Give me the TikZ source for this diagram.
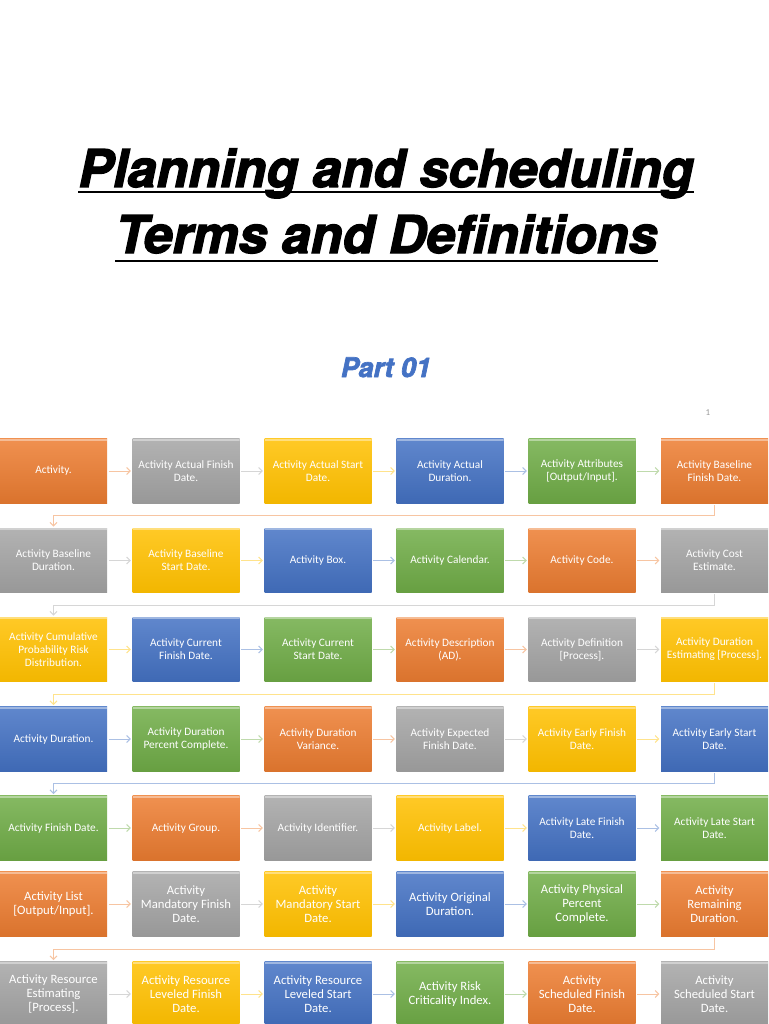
\documentclass[tikz,border=0pt]{standalone}
\usepackage{fontspec}
\usetikzlibrary{arrows.meta}
\newfontfamily\boxfont{Carlito}
\newfontfamily\titlefont[BoldItalicFeatures={FakeBold=2.5}]{TeX Gyre Heros}
\definecolor{morange}{HTML}{ED7D31}
\definecolor{mgray}{HTML}{A5A5A5}
\definecolor{mgold}{HTML}{FFC000}
\definecolor{mblue}{HTML}{4472C4}
\definecolor{mgreen}{HTML}{70AD47}

\begin{document}
\begin{tikzpicture}[x=1pt, y=-1pt,
    box/.style={minimum width=107pt, minimum height=64.5pt, inner sep=2pt,
      align=center, text=white, font=\boxfont\fontsize{11.3}{13}\selectfont,
      path picture={\fill [white, opacity=0.4] (path picture bounding box.north west)
        rectangle ([yshift=-2pt]path picture bounding box.north east);}},
    big/.style={font=\boxfont\fontsize{12.7}{14}\selectfont},
    orangebox/.style={box, top color=morange!85!white, bottom color=morange!92!black},
    graybox/.style={box, top color=mgray!85!white, bottom color=mgray!92!black},
    goldbox/.style={box, top color=mgold!85!white, bottom color=mgold!95!black},
    bluebox/.style={box, top color=mblue!85!white, bottom color=mblue!92!black},
    greenbox/.style={box, top color=mgreen!85!white, bottom color=mgreen!92!black},
    link/.style={line width=1pt, -{Straight Barb[length=3.5pt, width=7pt]},
      shorten <=1.5pt, shorten >=1.5pt},
    orangelink/.style={link, morange!45!white},
    graylink/.style={link, mgray!45!white},
    goldlink/.style={link, mgold!45!white},
    bluelink/.style={link, mblue!45!white},
    greenlink/.style={link, mgreen!45!white},
    heading/.style={inner sep=0pt, anchor=base,
      font=\titlefont\bfseries\itshape\fontsize{52}{60}\selectfont}]
  \useasboundingbox (0, 0) rectangle (768, 1024);

  % title
  \node [heading] (title1) at (386, 187) {Planning and scheduling};
  \node [heading] (title2) at (386.5, 253) {Terms and Definitions};
  \draw [line width=2.5pt] ([yshift=-5pt]title1.base west) -- ([yshift=-5pt]title1.base east);
  \draw [line width=2.5pt] ([yshift=-8pt]title2.base west) -- ([yshift=-8pt]title2.base east);
  \node [heading, text=mblue, font=\titlefont\bfseries\itshape\fontsize{27}{30}\selectfont]
    (part) at (386, 377) {Part 01};
  \node [text=gray!80, font=\boxfont\fontsize{9}{10}\selectfont] (page) at (708, 413) {1};

  % row 1
  \node [orangebox] (1) at (53.5, 471) {Activity.};
  \node [graybox] (2) at (186, 471) {Activity Actual Finish\\Date.};
  \node [goldbox] (3) at (318, 471) {Activity Actual Start\\Date.};
  \node [bluebox] (4) at (450, 471) {Activity Actual\\Duration.};
  \node [greenbox] (5) at (582, 471) {Activity Attributes\\{[}Output/Input].};
  \node [orangebox] (6) at (714.5, 471) {Activity Baseline\\Finish Date.};

  % row 2
  \node [graybox] (7) at (53.5, 560.5) {Activity Baseline\\Duration.};
  \node [goldbox] (8) at (186, 560.5) {Activity Baseline\\Start Date.};
  \node [bluebox] (9) at (318, 560.5) {Activity Box.};
  \node [greenbox] (10) at (450, 560.5) {Activity Calendar.};
  \node [orangebox] (11) at (582, 560.5) {Activity Code.};
  \node [graybox] (12) at (714.5, 560.5) {Activity Cost\\Estimate.};

  % row 3
  \node [goldbox] (13) at (53.5, 649.5) {Activity Cumulative\\Probability Risk\\Distribution.};
  \node [bluebox] (14) at (186, 649.5) {Activity Current\\Finish Date.};
  \node [greenbox] (15) at (318, 649.5) {Activity Current\\Start Date.};
  \node [orangebox] (16) at (450, 649.5) {Activity Description\\(AD).};
  \node [graybox] (17) at (582, 649.5) {Activity Definition\\{[}Process].};
  \node [goldbox] (18) at (714.5, 649.5) {Activity Duration\\Estimating [Process].};

  % row 4
  \node [bluebox] (19) at (53.5, 739) {Activity Duration.};
  \node [greenbox] (20) at (186, 739) {Activity Duration\\Percent Complete.};
  \node [orangebox] (21) at (318, 739) {Activity Duration\\Variance.};
  \node [graybox] (22) at (450, 739) {Activity Expected\\Finish Date.};
  \node [goldbox] (23) at (582, 739) {Activity Early Finish\\Date.};
  \node [bluebox] (24) at (714.5, 739) {Activity Early Start\\Date.};

  % row 5
  \node [greenbox] (25) at (53.5, 828) {Activity Finish Date.};
  \node [orangebox] (26) at (186, 828) {Activity Group.};
  \node [graybox] (27) at (318, 828) {Activity Identifier.};
  \node [goldbox] (28) at (450, 828) {Activity Label.};
  \node [bluebox] (29) at (582, 828) {Activity Late Finish\\Date.};
  \node [greenbox] (30) at (714.5, 828) {Activity Late Start\\Date.};

  % row 6
  \node [orangebox, big] (31) at (53.5, 904) {Activity List\\{[}Output/Input].};
  \node [graybox, big] (32) at (186, 904) {Activity\\Mandatory Finish\\Date.};
  \node [goldbox, big] (33) at (318, 904) {Activity\\Mandatory Start\\Date.};
  \node [bluebox, big] (34) at (450, 904) {Activity Original\\Duration.};
  \node [greenbox, big] (35) at (582, 904) {Activity Physical\\Percent\\Complete.};
  \node [orangebox, big] (36) at (714.5, 904) {Activity\\Remaining\\Duration.};

  % row 7
  \node [graybox, big] (37) at (53.5, 994) {Activity Resource\\Estimating\\{[}Process].};
  \node [goldbox, big] (38) at (186, 994) {Activity Resource\\Leveled Finish\\Date.};
  \node [bluebox, big] (39) at (318, 994) {Activity Resource\\Leveled Start\\Date.};
  \node [greenbox, big] (40) at (450, 994) {Activity Risk\\Criticality Index.};
  \node [orangebox, big] (41) at (582, 994) {Activity\\Scheduled Finish\\Date.};
  \node [graybox, big] (42) at (714.5, 994) {Activity\\Scheduled Start\\Date.};

  \draw [orangelink] (1) -- (2);
  \draw [graylink] (2) -- (3);
  \draw [goldlink] (3) -- (4);
  \draw [bluelink] (4) -- (5);
  \draw [greenlink] (5) -- (6);
  \draw [orangelink] (6.south) -- ++(0, 12.5) -| (7.north);

  \draw [graylink] (7) -- (8);
  \draw [goldlink] (8) -- (9);
  \draw [bluelink] (9) -- (10);
  \draw [greenlink] (10) -- (11);
  \draw [orangelink] (11) -- (12);
  \draw [graylink] (12.south) -- ++(0, 12.5) -| (13.north);

  \draw [goldlink] (13) -- (14);
  \draw [bluelink] (14) -- (15);
  \draw [greenlink] (15) -- (16);
  \draw [orangelink] (16) -- (17);
  \draw [graylink] (17) -- (18);
  \draw [goldlink] (18.south) -- ++(0, 12.5) -| (19.north);

  \draw [bluelink] (19) -- (20);
  \draw [greenlink] (20) -- (21);
  \draw [orangelink] (21) -- (22);
  \draw [graylink] (22) -- (23);
  \draw [goldlink] (23) -- (24);
  \draw [bluelink] (24.south) -- ++(0, 12.5) -| (25.north);

  \draw [greenlink] (25) -- (26);
  \draw [orangelink] (26) -- (27);
  \draw [graylink] (27) -- (28);
  \draw [goldlink] (28) -- (29);
  \draw [bluelink] (29) -- (30);

  \draw [orangelink] (31) -- (32);
  \draw [graylink] (32) -- (33);
  \draw [goldlink] (33) -- (34);
  \draw [bluelink] (34) -- (35);
  \draw [greenlink] (35) -- (36);
  \draw [orangelink] (36.south) -- ++(0, 13) -| (37.north);

  \draw [graylink] (37) -- (38);
  \draw [goldlink] (38) -- (39);
  \draw [bluelink] (39) -- (40);
  \draw [greenlink] (40) -- (41);
  \draw [orangelink] (41) -- (42);
\end{tikzpicture}
\end{document}
